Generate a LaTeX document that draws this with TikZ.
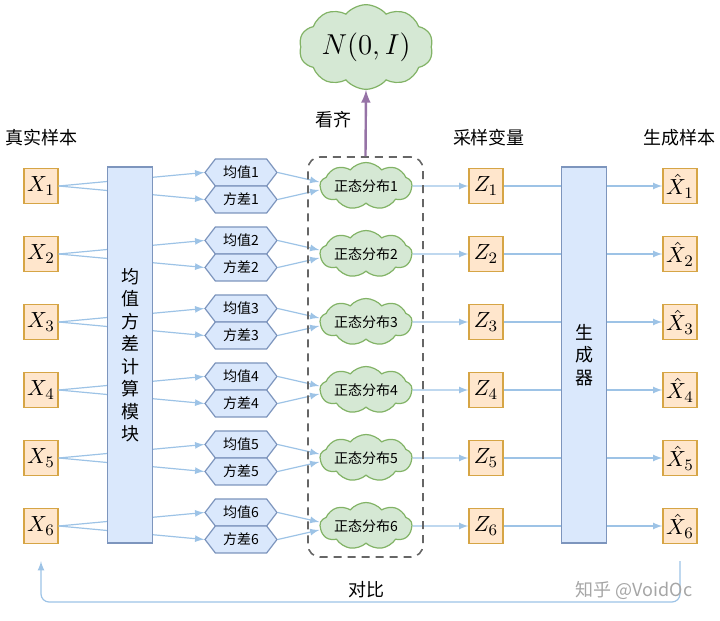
\documentclass[tikz,border=0pt]{standalone}
\usepackage{fontspec}
\newfontfamily\cjk{Noto Sans CJK SC}
\usepackage{tikz}
\usetikzlibrary{arrows, positioning, calc, shapes.symbols, shapes.geometric}
\definecolor{linkblue}{HTML}{9DC3E6}
\definecolor{orangefill}{HTML}{FFE6CC}
\definecolor{orangeedge}{HTML}{D6A545}
\definecolor{bluefill}{HTML}{DAE8FC}
\definecolor{blueedge}{HTML}{7D95BD}
\definecolor{greenfill}{HTML}{D5E8D4}
\definecolor{greenedge}{HTML}{82B366}
\definecolor{purpleline}{HTML}{9673A6}

\begin{document}
\begin{tikzpicture}[
  x=0.5pt, y=-0.5pt, font=\cjk\fontsize{9}{11}\selectfont,
  > = latex,
  samplebox/.style = {draw=orangeedge, fill=orangefill, line width=0.7pt, minimum width=17pt, minimum height=17.5pt, inner sep=0pt, font=\fontsize{11}{13}\selectfont},
  stathex/.style = {signal, signal to=east and west, signal pointer angle=105, draw=blueedge, fill=bluefill, line width=0.6pt, minimum width=36pt, minimum height=13.5pt, inner sep=0pt, font=\cjk\fontsize{7}{8}\selectfont},
  normcloud/.style = {cloud, cloud puffs=9, cloud puff arc=100, aspect=2.6, draw=greenedge, fill=greenfill, line width=0.6pt, minimum width=46pt, minimum height=18pt, inner sep=0pt, font=\cjk\fontsize{7}{8}\selectfont},
  bigblock/.style = {draw=blueedge, fill=bluefill, line width=0.7pt, minimum width=22.5pt, minimum height=188pt, inner sep=0pt, align=center, font=\cjk\fontsize{9}{11.25}\selectfont},
  flow/.style = {draw=linkblue, line width=0.6pt},
  groupbox/.style = {draw=black!60, dash pattern=on 4pt off 3pt, line width=0.8pt, rounded corners=6pt, minimum width=57.5pt, minimum height=200pt}
  ]
  \useasboundingbox (0,0) rectangle (720,621);
  % column headings
  \node (hreal) at (41,138) {真实样本};
  \node (hz) at (489,138) {采样变量};
  \node (hgen) at (680,138) {生成样本};
  % rows
  \foreach \i in {1,...,6} {
    \pgfmathsetmacro{\ry}{186+68*(\i-1)}
    \node[samplebox] (x\i) at (41,\ry) {$X_{\i}$};
    \node[stathex] (m\i) at (241,\ry-13.5) {均值\i};
    \node[stathex] (v\i) at (241,\ry+13.5) {方差\i};
    \node[normcloud] (c\i) at (366,\ry) {正态分布\i};
    \node[samplebox] (z\i) at (486,\ry) {$Z_{\i}$};
    \node[samplebox] (xh\i) at (680,\ry) {$\hat{X}_{\i}$};
    \draw[flow,->] (x\i.east) -- (m\i.west);
    \draw[flow,->] (x\i.east) -- (v\i.west);
    \draw[flow,->] (m\i.east) -- ([yshift=2pt]c\i.west);
    \draw[flow,->] (v\i.east) -- ([yshift=-2pt]c\i.west);
    \draw[flow,->] (c\i.east) -- (z\i.west);
    \draw[flow,->] (z\i.east) -- (xh\i.west);
  }
  % blocks over the links
  \node[bigblock] (calc) at (130,355) {均\\值\\方\\差\\计\\算\\模\\块};
  \node[bigblock] (gen) at (584,355) {生\\成\\器};
  % sampled distributions
  \node[groupbox] (grp) at (365.5,357) {};
  \node[normcloud, cloud puffs=10, aspect=1.8, minimum width=67pt, minimum height=38pt, font=\fontsize{14}{16}\selectfont] (ncloud) at (366,47) {$N(0,I)$};
  \draw[draw=purpleline, line width=1.2pt, ->] (grp.north) -- (ncloud.south);
  \node (align) at (333,120) {看齐};
  % comparison
  \coordinate (fbl) at (41,602);
  \draw[flow, ->, rounded corners=4pt] ([yshift=-8.5pt]xh6.south) |- (fbl) -- ([yshift=-8.5pt]x6.south);
  \node (cmp) at (367,590) {对比};
  \node[text=black!35] (mark) at (634,590) {知乎 @VoidOc};
\end{tikzpicture}
\end{document}
